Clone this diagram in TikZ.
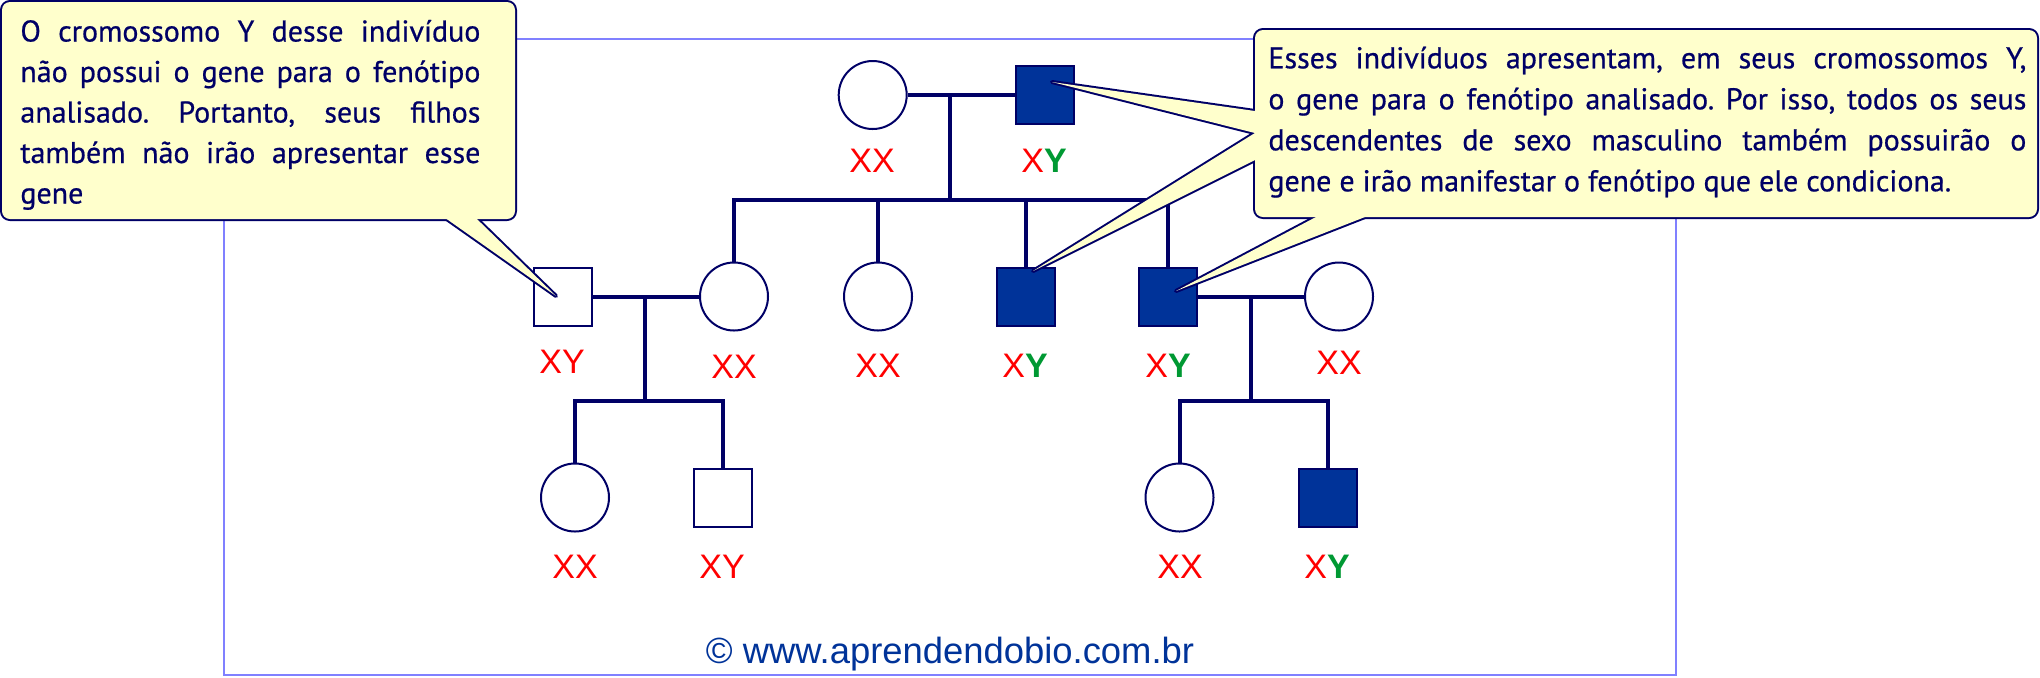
\documentclass[tikz,border=0pt]{standalone}
\usepackage{fontspec}
\newfontfamily\calfont{PT Sans}[FakeBold=0.6]
\newfontfamily\labfont{Liberation Sans}
\definecolor{navy}{RGB}{0,0,102}
\definecolor{affblue}{RGB}{0,51,153}
\definecolor{labred}{RGB}{255,0,0}
\definecolor{labgreen}{RGB}{0,153,51}
\definecolor{callyellow}{RGB}{255,255,204}
\definecolor{framecol}{RGB}{128,128,255}
\definecolor{copyblue}{RGB}{0,51,153}
\newcommand\GreenY{\textcolor{labgreen}{\bfseries Y}}
\frenchspacing
\begin{document}
\begin{tikzpicture}[x=0.5pt,y=-0.5pt,
  conn/.style={draw=navy, line width=2pt},
  fem/.style={circle, draw=navy, line width=1pt, fill=white, minimum size=34pt, inner sep=0pt},
  male/.style={rectangle, draw=navy, line width=1pt, fill=white, minimum size=29pt, inner sep=0pt},
  affm/.style={male, fill=affblue},
  geno/.style={font=\labfont\fontsize{17}{20}\selectfont, text=labred, inner sep=0pt},
  ctext/.style={font=\calfont\fontsize{15}{18}\selectfont, text=navy, inner sep=0pt, anchor=base west},
  cstroke/.style={draw=navy, line width=2pt, line join=round},
  cfill/.style={fill=callyellow}]
\fill[white] (0,0) rectangle (2040,677);
\useasboundingbox (0,0) rectangle (2040,677);
% frame
\draw[framecol, line width=0.8pt] (224,39) rectangle (1676,675);
\node[font=\labfont\fontsize{18.2}{21}\selectfont, text=copyblue, inner sep=0pt, anchor=base] (copy) at (950,663) {© www.aprendendobio.com.br};
% generation I
\node[fem] (f1) at (872.7,95) {};
\node[affm] (m1) at (1044.5,95) {};
\draw[conn] (f1.east) -- (m1.west);
\coordinate (j1) at (950,95);
\coordinate (s1) at (950,200);
\draw[conn] (j1) -- (s1);
% generation II
\node[male] (h2) at (562.5,296.5) {};
\node[fem] (f2) at (734,296.5) {};
\node[fem] (f3) at (878,296.5) {};
\node[affm] (m2) at (1025.5,296.5) {};
\node[affm] (m3) at (1168,296.5) {};
\node[fem] (w3) at (1339,296.5) {};
\draw[conn] (f2.north) |- (s1) -| (m3.north);
\draw[conn] (f3.north) -- (f3.north |- s1);
\draw[conn] (m2.north) -- (m2.north |- s1);
\draw[conn] (h2.east) -- (f2.west);
\coordinate (j2) at (645,296.5);
\coordinate (s2) at (645,401);
\draw[conn] (j2) -- (s2);
\draw[conn] (m3.east) -- (w3.west);
\coordinate (j3) at (1250.7,296.5);
\coordinate (s3) at (1250.7,401);
\draw[conn] (j3) -- (s3);
% generation III
\node[fem] (c1) at (575,497.5) {};
\node[male] (c2) at (722.5,497.5) {};
\node[fem] (c3) at (1179.5,497.5) {};
\node[affm] (c4) at (1327.5,497.5) {};
\draw[conn] (c1.north) |- (s2) -| (c2.north);
\draw[conn] (c3.north) |- (s3) -| (c4.north);
% genotype labels
\node[geno] (g1) at (872,161) {XX};
\node[geno] (g2) at (1044,161) {X\GreenY};
\node[geno] (g3) at (562,362) {XY};
\node[geno] (g4) at (734,367) {XX};
\node[geno] (g5) at (878,366) {XX};
\node[geno] (g6) at (1025,366) {X\GreenY};
\node[geno] (g7) at (1168,366) {X\GreenY};
\node[geno] (g8) at (1339,363) {XX};
\node[geno] (g9) at (575,567) {XX};
\node[geno] (g10) at (722,567) {XY};
\node[geno] (g11) at (1180,567) {XX};
\node[geno] (g12) at (1327,567) {X\GreenY};
% callouts: strokes
\draw[cstroke, rounded corners=4pt] (2,2) rectangle (515,219);
\draw[cstroke] (436.7,212) -- (556,296) -- (469.7,212) -- cycle;
\draw[cstroke, rounded corners=4pt] (1255,30) rectangle (2037,217);
\draw[cstroke] (1262,112) -- (1052,82) -- (1262,134.8) -- cycle;
\draw[cstroke] (1262,128.6) -- (1033,271) -- (1262,156.5) -- cycle;
\draw[cstroke] (1327.3,211) -- (1176,291) -- (1380.3,211) -- cycle;
% callouts: fills
\fill[cfill, rounded corners=4pt] (2,2) rectangle (515,219);
\fill[cfill] (436.7,212) -- (556,296) -- (469.7,212) -- cycle;
\fill[cfill, rounded corners=4pt] (1255,30) rectangle (2037,217);
\fill[cfill] (1262,112) -- (1052,82) -- (1262,134.8) -- cycle;
\fill[cfill] (1262,128.6) -- (1033,271) -- (1262,156.5) -- cycle;
\fill[cfill] (1327.3,211) -- (1176,291) -- (1380.3,211) -- cycle;
% callout texts
\node[ctext] (t1) at (20,41.5) {\makebox[230pt][s]{O cromossomo Y desse indivíduo}};
\node[ctext] (t2) at (20,82) {\makebox[230pt][s]{não possui o gene para o fenótipo}};
\node[ctext] (t3) at (20,122.5) {\makebox[230pt][s]{analisado. Portanto, seus filhos}};
\node[ctext] (t4) at (20,163) {\makebox[230pt][s]{também não irão apresentar esse}};
\node[ctext] (t5) at (20,203.5) {gene};
\node[ctext] (r1) at (1268,68.3) {\makebox[379pt][s]{Esses indivíduos apresentam, em seus cromossomos Y,}};
\node[ctext] (r2) at (1268,109.3) {\makebox[379pt][s]{o gene para o fenótipo analisado. Por isso, todos os seus}};
\node[ctext] (r3) at (1268,150.3) {\makebox[379pt][s]{descendentes de sexo masculino também possuirão o}};
\node[ctext] (r4) at (1268,191.3) {gene e irão manifestar o fenótipo que ele condiciona.};
\end{tikzpicture}
\end{document}
